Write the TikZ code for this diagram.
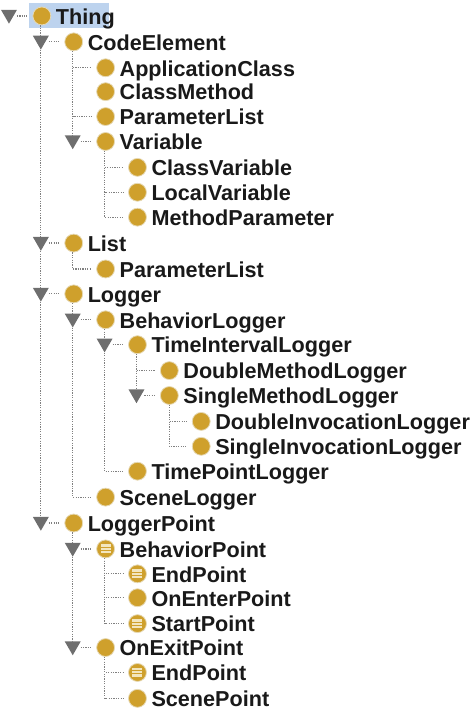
\documentclass[tikz,border=0pt]{standalone}
\usepackage{fontspec}
\setmainfont{Liberation Sans}
\usetikzlibrary{positioning, shapes.geometric}
\definecolor{ballcol}{HTML}{CFA02C}
\definecolor{ringcol}{HTML}{E6D9B4}
\definecolor{hilite}{HTML}{BDD3EE}
\definecolor{twistcol}{HTML}{6E6E6E}
\definecolor{barcol}{HTML}{F3E6BE}
\begin{document}
\begin{tikzpicture}[x=1pt, y=-1pt, font=\fontsize{21.7}{23}\selectfont\bfseries,
      ball/.style={circle, draw=ringcol, line width=0.8pt, fill=ballcol, minimum size=18pt, inner sep=0pt},
      defball/.style={ball, path picture={
        \fill[barcol] ([xshift=-5pt,yshift=4.5pt]path picture bounding box.center) rectangle ([xshift=5pt,yshift=-4.5pt]path picture bounding box.center);
        \draw[ballcol, line width=1pt] ([xshift=-5pt,yshift=1.5pt]path picture bounding box.center) -- ([xshift=5pt,yshift=1.5pt]path picture bounding box.center);
        \draw[ballcol, line width=1pt] ([xshift=-5pt,yshift=-1.5pt]path picture bounding box.center) -- ([xshift=5pt,yshift=-1.5pt]path picture bounding box.center);}},
      twist/.style={regular polygon, regular polygon sides=3, shape border rotate=180, fill=twistcol, minimum size=18.5pt, inner sep=0pt, yshift=1.5pt},
      lbl/.style={right=4.5pt of #1, inner sep=0pt, text=black!90, text height=20pt, text depth=3.4pt},
      tree/.style={draw=black!50, line width=1.2pt, dash pattern=on 1.2pt off 1.2pt},
      twig/.style={tree, shorten >=5pt},
      spur/.style={tree, shorten <=8pt, shorten >=5pt}]
    % selected row
    \node[fill=hilite, minimum width=80pt, minimum height=25pt, inner sep=0pt] (selThing) at (69,15.5) {};
    % level 0
    \node[twist] (tThing) at (9,16) {};
    \node[ball] (bThing) at (42,16) {};
    \node[lbl=bThing] (lThing) {Thing};
    % level 1
    \node[twist] (tCode) at (41,42) {};
    \node[ball] (bCode) at (74,42) {};
    \node[lbl=bCode] (lCode) {CodeElement};
    \node[twist] (tList) at (41,244) {};
    \node[ball] (bList) at (74,244) {};
    \node[lbl=bList] (lList) {List};
    \node[twist] (tLogger) at (41,295) {};
    \node[ball] (bLogger) at (74,295) {};
    \node[lbl=bLogger] (lLogger) {Logger};
    \node[twist] (tPoint) at (41,525) {};
    \node[ball] (bPoint) at (74,525) {};
    \node[lbl=bPoint] (lPoint) {LoggerPoint};
    % under CodeElement
    \node[ball] (bApp) at (106,68) {};
    \node[lbl=bApp] (lApp) {ApplicationClass};
    \node[ball] (bMethod) at (106,92) {};
    \node[lbl=bMethod] (lMethod) {ClassMethod};
    \node[ball] (bParam) at (106,117) {};
    \node[lbl=bParam] (lParam) {ParameterList};
    \node[twist] (tVar) at (73,142) {};
    \node[ball] (bVar) at (106,142) {};
    \node[lbl=bVar] (lVar) {Variable};
    \node[ball] (bClassVar) at (138,168) {};
    \node[lbl=bClassVar] (lClassVar) {ClassVariable};
    \node[ball] (bLocalVar) at (138,193) {};
    \node[lbl=bLocalVar] (lLocalVar) {LocalVariable};
    \node[ball] (bMethPar) at (138,218) {};
    \node[lbl=bMethPar] (lMethPar) {MethodParameter};
    % under List
    \node[ball] (bListPar) at (106,270) {};
    \node[lbl=bListPar] (lListPar) {ParameterList};
    % under Logger
    \node[twist] (tBehav) at (73,321) {};
    \node[ball] (bBehav) at (106,321) {};
    \node[lbl=bBehav] (lBehav) {BehaviorLogger};
    \node[twist] (tInterval) at (105,346) {};
    \node[ball] (bInterval) at (138,346) {};
    \node[lbl=bInterval] (lInterval) {TimeIntervalLogger};
    \node[ball] (bDoubleM) at (170,372) {};
    \node[lbl=bDoubleM] (lDoubleM) {DoubleMethodLogger};
    \node[twist] (tSingleM) at (137,397) {};
    \node[ball] (bSingleM) at (170,397) {};
    \node[lbl=bSingleM] (lSingleM) {SingleMethodLogger};
    \node[ball] (bDoubleI) at (202,423) {};
    \node[lbl=bDoubleI] (lDoubleI) {DoubleInvocationLogger};
    \node[ball] (bSingleI) at (202,448) {};
    \node[lbl=bSingleI] (lSingleI) {SingleInvocationLogger};
    \node[ball] (bTimePt) at (138,473) {};
    \node[lbl=bTimePt] (lTimePt) {TimePointLogger};
    \node[ball] (bScene) at (106,499) {};
    \node[lbl=bScene] (lScene) {SceneLogger};
    % under LoggerPoint
    \node[twist] (tBehPt) at (73,551) {};
    \node[defball] (bBehPt) at (106,551) {};
    \node[lbl=bBehPt] (lBehPt) {BehaviorPoint};
    \node[defball] (bEnd) at (138,576) {};
    \node[lbl=bEnd] (lEnd) {EndPoint};
    \node[ball] (bEnter) at (138,600) {};
    \node[lbl=bEnter] (lEnter) {OnEnterPoint};
    \node[defball] (bStart) at (138,626) {};
    \node[lbl=bStart] (lStart) {StartPoint};
    \node[twist] (tExit) at (73,650) {};
    \node[ball] (bExit) at (106,650) {};
    \node[lbl=bExit] (lExit) {OnExitPoint};
    \node[defball] (bEndB) at (138,675) {};
    \node[lbl=bEndB] (lEndB) {EndPoint};
    \node[ball] (bScPt) at (138,701) {};
    \node[lbl=bScPt] (lScPt) {ScenePoint};
    % stubs from the triangles
    \foreach \tw/\bl in {tThing/bThing, tCode/bCode, tList/bList, tLogger/bLogger, tPoint/bPoint, tVar/bVar, tBehav/bBehav, tInterval/bInterval, tSingleM/bSingleM, tBehPt/bBehPt, tExit/bExit}
      \draw[spur] (\tw.center |- \bl.west) -- (\bl.west);
    % long runs
    \draw[tree] (bThing.south -| tCode.north) -- (tCode.north);
    \draw[tree] (tCode.south) -- (tList.north);
    \draw[tree] (tList.south) -- (tLogger.north);
    \draw[tree] (tLogger.south) -- (tPoint.north);
    \draw[tree] (bCode.south -| tVar.north) -- (tVar.north);
    \draw[tree] (bLogger.south -| tBehav.north) -- (tBehav.north);
    \draw[tree] (bBehav.south -| tInterval.north) -- (tInterval.north);
    \draw[tree] (bInterval.south -| tSingleM.north) -- (tSingleM.north);
    \draw[tree] (bPoint.south -| tBehPt.north) -- (tBehPt.north);
    \draw[tree] (tBehPt.south) -- (tExit.north);
    % elbows to the leaves
    \draw[twig] (bCode.south -| tVar.north) |- (bApp.west);
    \draw[twig] (bCode.south -| tVar.north) |- (bParam.west);
    \foreach \leaf in {bClassVar, bLocalVar, bMethPar}
      \draw[twig] (bVar.south -| tInterval.north) |- (\leaf.west);
    \draw[twig] (bList.south -| tBehav.north) |- (bListPar.west);
    \draw[twig] (tBehav.south) |- (bScene.west);
    \draw[twig] (tInterval.south) |- (bTimePt.west);
    \draw[twig] (bInterval.south -| tSingleM.north) |- (bDoubleM.west);
    \foreach \leaf in {bDoubleI, bSingleI}
      \draw[twig] (bSingleM.south) |- (\leaf.west);
    \foreach \leaf in {bEnd, bEnter, bStart}
      \draw[twig] (bBehPt.south -| tInterval.north) |- (\leaf.west);
    \foreach \leaf in {bEndB, bScPt}
      \draw[twig] (bExit.south -| tInterval.north) |- (\leaf.west);
    \useasboundingbox (0,0) rectangle (474,710);
  \end{tikzpicture}
\end{document}
